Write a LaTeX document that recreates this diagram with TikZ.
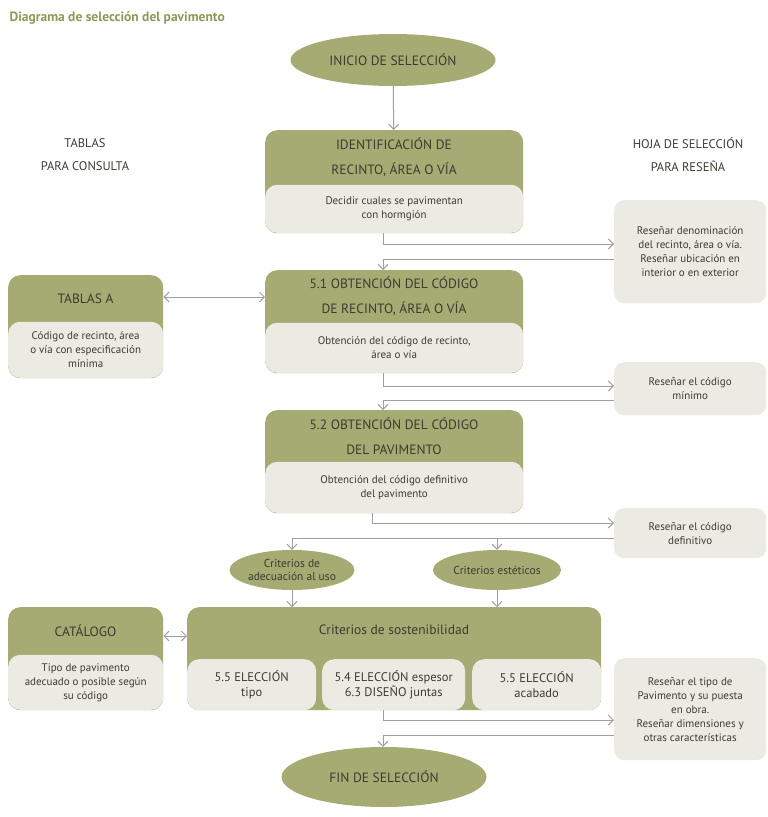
\documentclass[tikz,border=0pt]{standalone}
\usepackage{fontspec}
\setmainfont{PT Sans}
\usetikzlibrary{arrows.meta,shapes.geometric}
\definecolor{olive}{HTML}{A5AB72}
\definecolor{pale}{HTML}{EBEBE3}
\definecolor{ink}{HTML}{3C3C30}
\definecolor{ttl}{HTML}{8C9A55}
\definecolor{ln}{HTML}{A0A09A}
\newcommand\pbox[8]{%
  \node[gbox,minimum width={(#4-#2)*1pt},minimum height={(#6-#3)*1pt},anchor=north west] (#1) at (#2,#3) {};
  \node[lbox,minimum width={(#4-#2)*1pt},minimum height={(#6-#5)*1pt},anchor=south west] (#1l) at (#2,#6) {#8};
  \node[htext] (#1h) at ({(#2+#4)/2},{(#3+#5)/2}) {#7};}
\begin{document}
\begin{tikzpicture}[x=1pt,y=-1pt,
  gbox/.style={fill=olive,rounded corners=12pt,inner sep=0},
  lbox/.style={fill=pale,rounded corners=12pt,inner sep=2pt,align=center,text=ink,font=\fontsize{11}{14}\selectfont},
  htext/.style={align=center,text=ink,font=\fontsize{13.5}{25}\selectfont},
  ell/.style={ellipse,fill=olive,inner sep=0,align=center,text=ink},
  rbox/.style={fill=pale,rounded corners=10pt,align=center,text=ink,font=\fontsize{11}{14}\selectfont,anchor=north west,inner sep=2pt},
  lab/.style={align=center,text=ink,font=\fontsize{12.5}{23}\selectfont},
  arr/.style={draw=ln,line width=1pt,-{Straight Barb[length=5pt,width=10pt]}},
  dbl/.style={draw=ln,line width=1pt,{Straight Barb[length=5pt,width=10pt]}-{Straight Barb[length=5pt,width=10pt]}},
  ln/.style={draw=ln,line width=1pt}]
\useasboundingbox (0,0) rectangle (768,817);
\node[anchor=west,text=ttl,font=\bfseries\fontsize{13.5}{16}\selectfont] (title) at (6,18) {Diagrama de selección del pavimento};
\node[ell,minimum width=205pt,minimum height=52pt,font=\fontsize{13.5}{16}\selectfont] (ini) at (393,60) {INICIO DE SELECCIÓN};
\node[lab] (tab) at (85,155) {TABLAS\\PARA CONSULTA};
\node[lab] (hoja) at (688,155) {HOJA DE SELECCIÓN\\PARA RESEÑA};
\pbox{b1}{265}{130}{523}{185}{233}{IDENTIFICACIÓN DE\\RECINTO, ÁREA O VÍA}{Decidir cuales se pavimentan\\con hormgión}
\pbox{b2}{265}{270}{523}{323}{373}{5.1 OBTENCIÓN DEL CÓDIGO\\DE RECINTO, ÁREA O VÍA}{Obtención del código de recinto,\\área o vía}
\pbox{b3}{265}{410}{523}{462}{513}{5.2 OBTENCIÓN DEL CÓDIGO\\DEL PAVIMENTO}{Obtención del código definitivo\\del pavimento}
\pbox{ta}{8}{275}{163}{322}{378}{TABLAS A}{Código de recinto, área\\o vía con especificación\\mínima}
\pbox{ca}{8}{607}{163}{655}{710}{CATÁLOGO}{Tipo de pavimento\\adecuado o posible según\\su código}
\node[gbox,minimum width=414pt,minimum height=103pt,anchor=north west] (so) at (187,607) {};
\node[htext] (soh) at (394,630) {Criterios de sostenibilidad};
\node[lbox,minimum width=129pt,minimum height=51pt,anchor=north west,font=\fontsize{12.5}{15}\selectfont] (s1) at (187,659) {5.5 ELECCIÓN\\tipo};
\node[lbox,minimum width=143pt,minimum height=51pt,anchor=north west,font=\fontsize{12.5}{15}\selectfont] (s2) at (322,659) {5.4 ELECCIÓN espesor\\6.3 DISEÑO juntas};
\node[lbox,minimum width=129pt,minimum height=51pt,anchor=north west,font=\fontsize{12.5}{15}\selectfont] (s3) at (472,659) {5.5 ELECCIÓN\\acabado};
\node[ell,minimum width=125pt,minimum height=40pt,font=\fontsize{11.5}{13}\selectfont] (e1) at (292,570) {Criterios de\\adecuación al uso};
\node[ell,minimum width=128pt,minimum height=40pt,font=\fontsize{11.5}{13}\selectfont] (e2) at (497,570) {Criterios estéticos};
\node[ell,minimum width=205pt,minimum height=60pt,font=\fontsize{13.5}{16}\selectfont] (fin) at (384,777) {FIN DE SELECCIÓN};
\node[rbox,minimum width=152pt,minimum height=103pt] (r1) at (614,200) {Reseñar denominación\\del recinto, área o vía.\\Reseñar ubicación en\\interior o en exterior};
\node[rbox,minimum width=152pt,minimum height=53pt] (r2) at (614,362) {Reseñar el código\\mínimo};
\node[rbox,minimum width=152pt,minimum height=50pt] (r3) at (614,508) {Reseñar el código\\definitivo};
\node[rbox,minimum width=152pt,minimum height=102pt] (r4) at (614,658) {Reseñar el tipo de\\Pavimento y su puesta\\en obra.\\Reseñar dimensiones y\\otras características};
% connectors
\draw[arr] (ini) -- (b1);
\draw[arr] (b1.south -| 383,0) |- (r1.west |- 0,244);
\draw[arr] (r1.west |- 0,259) -| (b2.north -| 383,0);
\draw[arr] (b2.south -| 383,0) |- (r2.west |- 0,386);
\draw[arr] (r2.west |- 0,400) -| (b3.north -| 383,0);
\draw[arr] (b3.south -| 372,0) |- (r3.west |- 0,523);
\draw[arr] (r3.west |- 0,538) -| (e1.north);
\coordinate (br) at (497,538);
\draw[arr] (br) -- (e2.north);
\draw[arr] (e1.south) -- (so.north -| e1);
\draw[arr] (e2.south) -- (so.north -| e2);
\draw[arr] (so.south -| 383,0) |- (r4.west |- 0,720);
\draw[arr] (r4.west |- 0,735) -| (fin.north -| 383,0);
\draw[dbl] (ta.east |- 0,297) -- (b2.west |- 0,297);
\draw[dbl] (ca.east |- 0,636) -- (so.west |- 0,636);
\end{tikzpicture}
\end{document}
